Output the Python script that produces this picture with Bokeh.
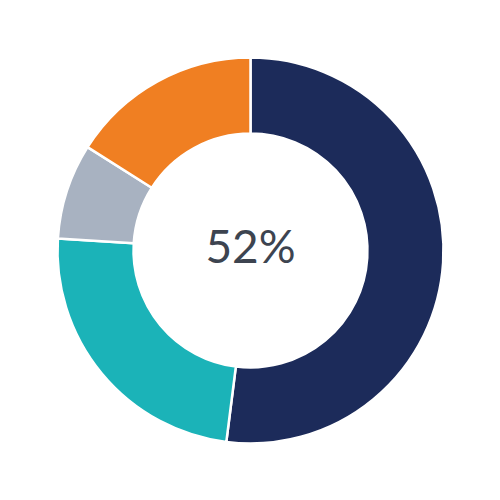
import numpy as np
from bokeh.plotting import figure
from bokeh.models import ColumnDataSource
from bokeh.core.properties import value
from bokeh.embed import file_html
from bokeh.resources import INLINE

labels = ["A", "B", "C", "D"]
shares = [52, 24, 8, 16]
colors = ["#1c2b5a", "#1bb3b8", "#a8b2c1", "#f07f22"]
center_label = "52%"

# angles run clockwise from 12 o'clock
frac = np.array(shares) / sum(shares)
ends = np.cumsum(frac)
starts = ends - frac
source = ColumnDataSource(dict(
    label=labels,
    start=np.pi / 2 - 2 * np.pi * starts,
    end=np.pi / 2 - 2 * np.pi * ends,
    color=colors,
))

p = figure(width=484, height=484, x_range=(-250, 234), y_range=(-234, 250),
           output_backend="svg", toolbar_location=None, min_border=0)
p.axis.visible = False
p.grid.visible = False
p.outline_line_color = None

p.annular_wedge(x=0, y=0, inner_radius=117, outer_radius=193,
                start_angle="start", end_angle="end", direction="clock",
                fill_color="color", line_color="white", line_width=2.5,
                source=source)

p.text(x=[0], y=[5], text=[center_label], text_align="center",
       text_baseline="middle", text_font=value("Lato"),
       text_font_size="46px", text_color="#3d4450")

open("out.html", "w").write(file_html(p, INLINE))
